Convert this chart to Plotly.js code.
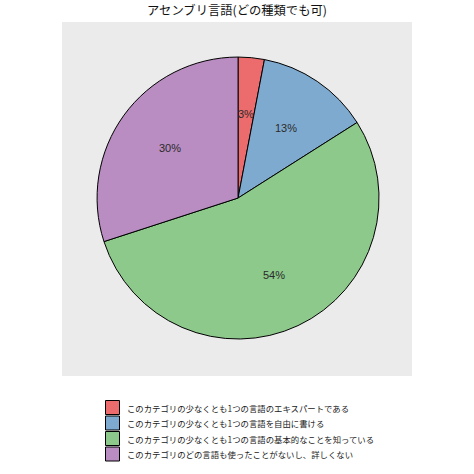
<!DOCTYPE html>
<html>
<head>
<meta charset="utf-8">
<script src="https://cdn.plot.ly/plotly-3.0.1.min.js"></script>
<style>
  html, body { margin: 0; padding: 0; background: #fff; }
  #chart { width: 474px; height: 474px; }
</style>
</head>
<body>
<div id="chart"></div>
<script>
const categories = [
    "このカテゴリの少なくとも1つの言語のエキスパートである",
    "このカテゴリの少なくとも1つの言語を自由に書ける",
    "このカテゴリの少なくとも1つの言語の基本的なことを知っている",
    "このカテゴリのどの言語も使ったことがないし、詳しくない",
];
const shares = [3, 13, 54, 30];
const sliceColors = ["#EC6B6D", "#7FAAD0", "#8CC98A", "#B98CC2"];

const FONT = "Noto Sans CJK JP, Noto Sans, sans-serif";
const W = 474, H = 474;
const margin = { l: 62, r: 62, t: 22, b: 98 };
const dom = { x: [0.1, 0.906], y: [0.1045, 0.901] };

const plotW = W - margin.l - margin.r, plotH = H - margin.t - margin.b;
// pixel (from top-left of the page) -> paper coords
const px = (x) => (x - margin.l) / plotW;
const py = (y) => (H - margin.b - y) / plotH;

// percentage labels sit at 0.6 of the radius, middle of each slice (clockwise from 12 o'clock)
const cx = (dom.x[0] + dom.x[1]) / 2, cy = (dom.y[0] + dom.y[1]) / 2;
const radPx = Math.min((dom.x[1] - dom.x[0]) * plotW, (dom.y[1] - dom.y[0]) * plotH) / 2;
const total = shares.reduce((a, b) => a + b, 0);
let cum = 0;
const annotations = shares.map((v) => {
    const mid = (cum + v / 2) / total * 2 * Math.PI;
    cum += v;
    return {
        x: cx + Math.sin(mid) * radPx * 0.6 / plotW,
        y: cy + Math.cos(mid) * radPx * 0.6 / plotH,
        xref: "paper", yref: "paper", xanchor: "center", yanchor: "middle", showarrow: false,
        text: Math.round(v / total * 100) + "%",
        font: { family: "Liberation Sans, Arial, sans-serif", size: 11, color: "#2a2a2a" },
    };
});

// legend below the panel, drawn by hand so rows can sit as tight as the original
const shapes = [{
    type: "rect", xref: "paper", yref: "paper", x0: 0, x1: 1, y0: 0, y1: 1,
    fillcolor: "#EBEBEB", line: { width: 0 }, layer: "below",
}];
const legTop = 400.5, legPitch = 15.5;
categories.forEach((c, i) => {
    const top = legTop + i * legPitch;
    shapes.push({
        type: "rect", xref: "paper", yref: "paper",
        x0: px(105.5), x1: px(119.5), y0: py(top + 14), y1: py(top),
        fillcolor: sliceColors[i], line: { color: "#000", width: 1 },
    });
    annotations.push({
        x: px(125), y: py(top + 7.3), xref: "paper", yref: "paper",
        xanchor: "left", yanchor: "middle", showarrow: false,
        text: c, font: { family: FONT, size: 8.4, color: "#222" },
    });
});

Plotly.newPlot("chart", [{
    type: "pie",
    labels: categories,
    values: shares,
    sort: false,
    direction: "clockwise",
    rotation: 0,
    domain: dom,
    textinfo: "none",
    hoverinfo: "label+percent",
    marker: { colors: sliceColors, line: { color: "#000", width: 1 } },
}], {
    width: W, height: H,
    margin: margin,
    paper_bgcolor: "#fff",
    font: { family: FONT, color: "#222" },
    title: {
        text: "アセンブリ言語(どの種類でも可)",
        x: 0.5, xanchor: "center", y: 1 - 11 / H, yanchor: "middle",
        font: { family: FONT, size: 12.3, color: "#111" },
    },
    shapes: shapes,
    annotations: annotations,
    showlegend: false,
}, { displayModeBar: false });
</script>
</body>
</html>
